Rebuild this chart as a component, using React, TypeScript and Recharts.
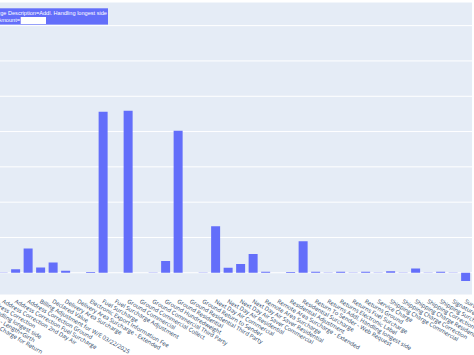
import React from 'react';
import { BarChart, Bar, XAxis, YAxis, CartesianGrid } from 'recharts';

// Categories (alphabetical, as in the source); the first few lie left of the visible crop
const categories: string[] = [
  'Additional Handling Charge for Return',
  'Addl. Handling - Length+Girth',
  'Addl. Handling longest side',
  'Address Correction',
  'Address Correction 2nd Day Air',
  'Address Correction Fuel Surcharge',
  'Address Correction Ground',
  'Billing Adjustment for  W/E 03/22/2025',
  'Declared Value',
  'Delivery Area Surcharge',
  'Delivery Area Surcharge - Extended',
  'Electronic Export Information Fee',
  'Fuel Surcharge',
  'Fuel Surcharge Adjustment',
  'Ground Commercial',
  'Ground Commercial Collect',
  'Ground Commercial Third Party',
  'Ground Hundredweight',
  'Ground Residential',
  'Ground Residential Third Party',
  'Ground Return to Sender',
  'Next Day Air Commercial',
  'Next Day Air Residential',
  'Next Day Air Saver Commercial',
  'Next Day Air Saver Residential',
  'Remote Area Surcharge',
  'Remote Area Surcharge - Extended',
  'Residential Adjustment',
  'Residential Surcharge',
  'Return To Sender - Web Request',
  'Returns Addl. Handling longest side',
  'Returns Electronic Label',
  'Returns Fuel Surcharge',
  'Returns Ground',
  'Service Charge',
  'Shipping Charge Commercial',
  'Shipping Charge Correction',
  'Shipping Charge Residential',
  'Shipping Correction Surcharge',
  'Shipping Surcharge Adjustment',
  'Signature Required',
  'Surcharge Adjustment',
];

const amounts: number[] = [
  60, 120, 36350, 40,
  30, 500, 3450, 750, 1450, 300, 0, 100, 22800, 0,
  22950, 0, 50, 1650, 20100, 0, 50, 6600, 700, 1250, 2650,
  150, 0, 100, 4450, 150, 50, 150, 20, 150, 20, 200, 20, 600, 20, 150, 20, -1150,
];

const yTicks: number[] = [0, 5000, 10000, 15000, 20000, 25000, 30000, 35000];

const data = categories.map((c, i) => ({ name: c, amount: amounts[i] }));

const HIDDEN = 4;
const BAND = 12.5;
const PLOT_LEFT = 2.8 - BAND / 2 - HIDDEN * BAND;
const PLOT_W = BAND * categories.length;

const Tick = (props: any) => {
  const { x, payload } = props;
  return (
    <text
      x={0}
      y={0}
      transform={`translate(${x - 1.5},302.5) rotate(30)`}
      fontSize={5.8}
      fill="#2a3f5f"
      fontFamily="'Open Sans', sans-serif"
      textAnchor="start"
    >
      {payload.value}
    </text>
  );
};

export default function App() {
  return (
    <div style={{ position: 'absolute', left: 0, top: 0, width: 474, height: 355, overflow: 'hidden', background: '#fff' }}>
      <div style={{ position: 'absolute', left: PLOT_LEFT, top: 0 }}>
        <BarChart
          width={PLOT_W + 10}
          height={355}
          data={data}
          margin={{ top: 2, right: 10, bottom: 0, left: 0 }}
          barCategoryGap="13%"
        >
          <CartesianGrid fill="#E5ECF6" stroke="#ffffff" strokeWidth={1} vertical={false} />
          <YAxis hide domain={[-3150, 38350]} ticks={yTicks} type="number" allowDataOverflow />
          <XAxis dataKey="name" height={60} interval={0} axisLine={false} tickLine={false} tick={<Tick />} />
          <Bar dataKey="amount" fill="#636EFA" isAnimationActive={false} />
        </BarChart>
      </div>
      <svg style={{ position: 'absolute', left: 0, top: 0 }} width={474} height={40}>
        <rect x={-20} y={8.3} width={128} height={16.3} fill="#636EFA" />
        <text x={107} y={14.6} textAnchor="end" fontSize={5.6} fill="#fff" fontFamily="Arial, sans-serif">
          Charge Description=Addl. Handling longest side
        </text>
        <text x={20} y={22.2} textAnchor="end" fontSize={5.6} fill="#fff" fontFamily="Arial, sans-serif">
          Amount=
        </text>
        <rect x={20.7} y={17} width={25.3} height={7} fill="#fff" />
      </svg>
    </div>
  );
}
